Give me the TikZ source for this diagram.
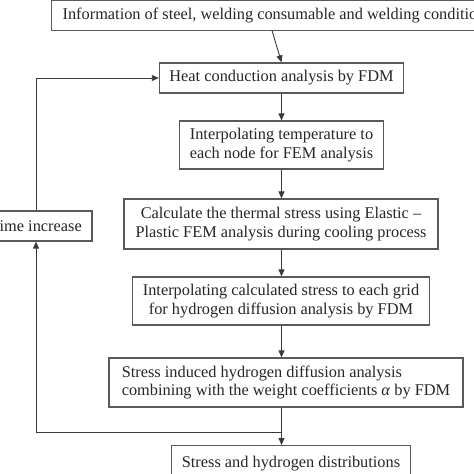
\documentclass[tikz,border=0pt]{standalone}
\usepackage{fontspec}
\setmainfont{Liberation Serif}
\usepackage{tikz}
\usetikzlibrary{calc,arrows.meta}
\definecolor{boxgray}{HTML}{5A5A5A}
\definecolor{linegray}{HTML}{3A3A3A}
\definecolor{inkgray}{HTML}{262626}
\tikzset{
  stepbox/.style={draw=boxgray, line width=1.2bp, text=inkgray, inner xsep=10bp,
    inner ysep=0pt, font=\fontsize{16.4}{18.4}\selectfont, align=center},
  flow/.style={-{Triangle[length=7bp,width=6bp]}, draw=linegray, line width=0.9bp},
  loopline/.style={draw=boxgray, line width=0.9bp}
}
\begin{document}
\begin{tikzpicture}[x=1bp, y=-1bp]

  % frame
  \clip (0,0) rectangle (474,474);
  \fill[white] (0,0) rectangle (474,474);

  % boxes
  \node[stepbox, anchor=west, minimum height=30bp, inner xsep=11bp]
    (info) at (51,15.5) {Information of steel, welding consumable and welding conditions};
  \node[stepbox, minimum width=243bp, minimum height=30bp]
    (heat) at (281.5,78) {Heat conduction analysis by FDM};
  \node[stepbox, minimum width=203bp, minimum height=48bp]
    (interp) at (281.5,145) {Interpolating temperature to\\each node for FEM analysis};
  \node[stepbox, minimum width=314bp, minimum height=50bp]
    (calc) at (281,224) {Calculate the thermal stress using Elastic --\\Plastic FEM analysis during cooling process};
  \node[stepbox, minimum width=296bp, minimum height=48bp]
    (grid) at (281,301) {Interpolating calculated stress to each grid\\for hydrogen diffusion analysis by FDM};
  \node[stepbox, minimum width=354bp, minimum height=49bp, align=left, inner xsep=5bp]
    (hyd) at (286,382.5) {Stress induced hydrogen diffusion analysis\\combining with the weight coefficients \textit{α} by FDM};
  \node[stepbox, anchor=north, minimum width=236bp, minimum height=36bp]
    (final) at (291,445) {Stress and hydrogen distributions};
  \node[stepbox, minimum width=112bp, minimum height=30bp]
    (time) at (36,226) {Time increase};

  % main flow
  \coordinate (infoout) at (272,30.5);
  \draw[flow] (infoout) -- (heat.north);
  \foreach \a/\b in {heat/interp, interp/calc, calc/grid, grid/hyd, hyd/final}{
    \draw[flow] (\a.south -| heat) -- (\b.north -| heat);
  }

  % feedback loop
  \coordinate (back) at (281.5,432);
  \draw[loopline, flow] (back) -| (time.south);
  \draw[loopline, flow] (time.north) |- (heat.west);

\end{tikzpicture}
\end{document}
